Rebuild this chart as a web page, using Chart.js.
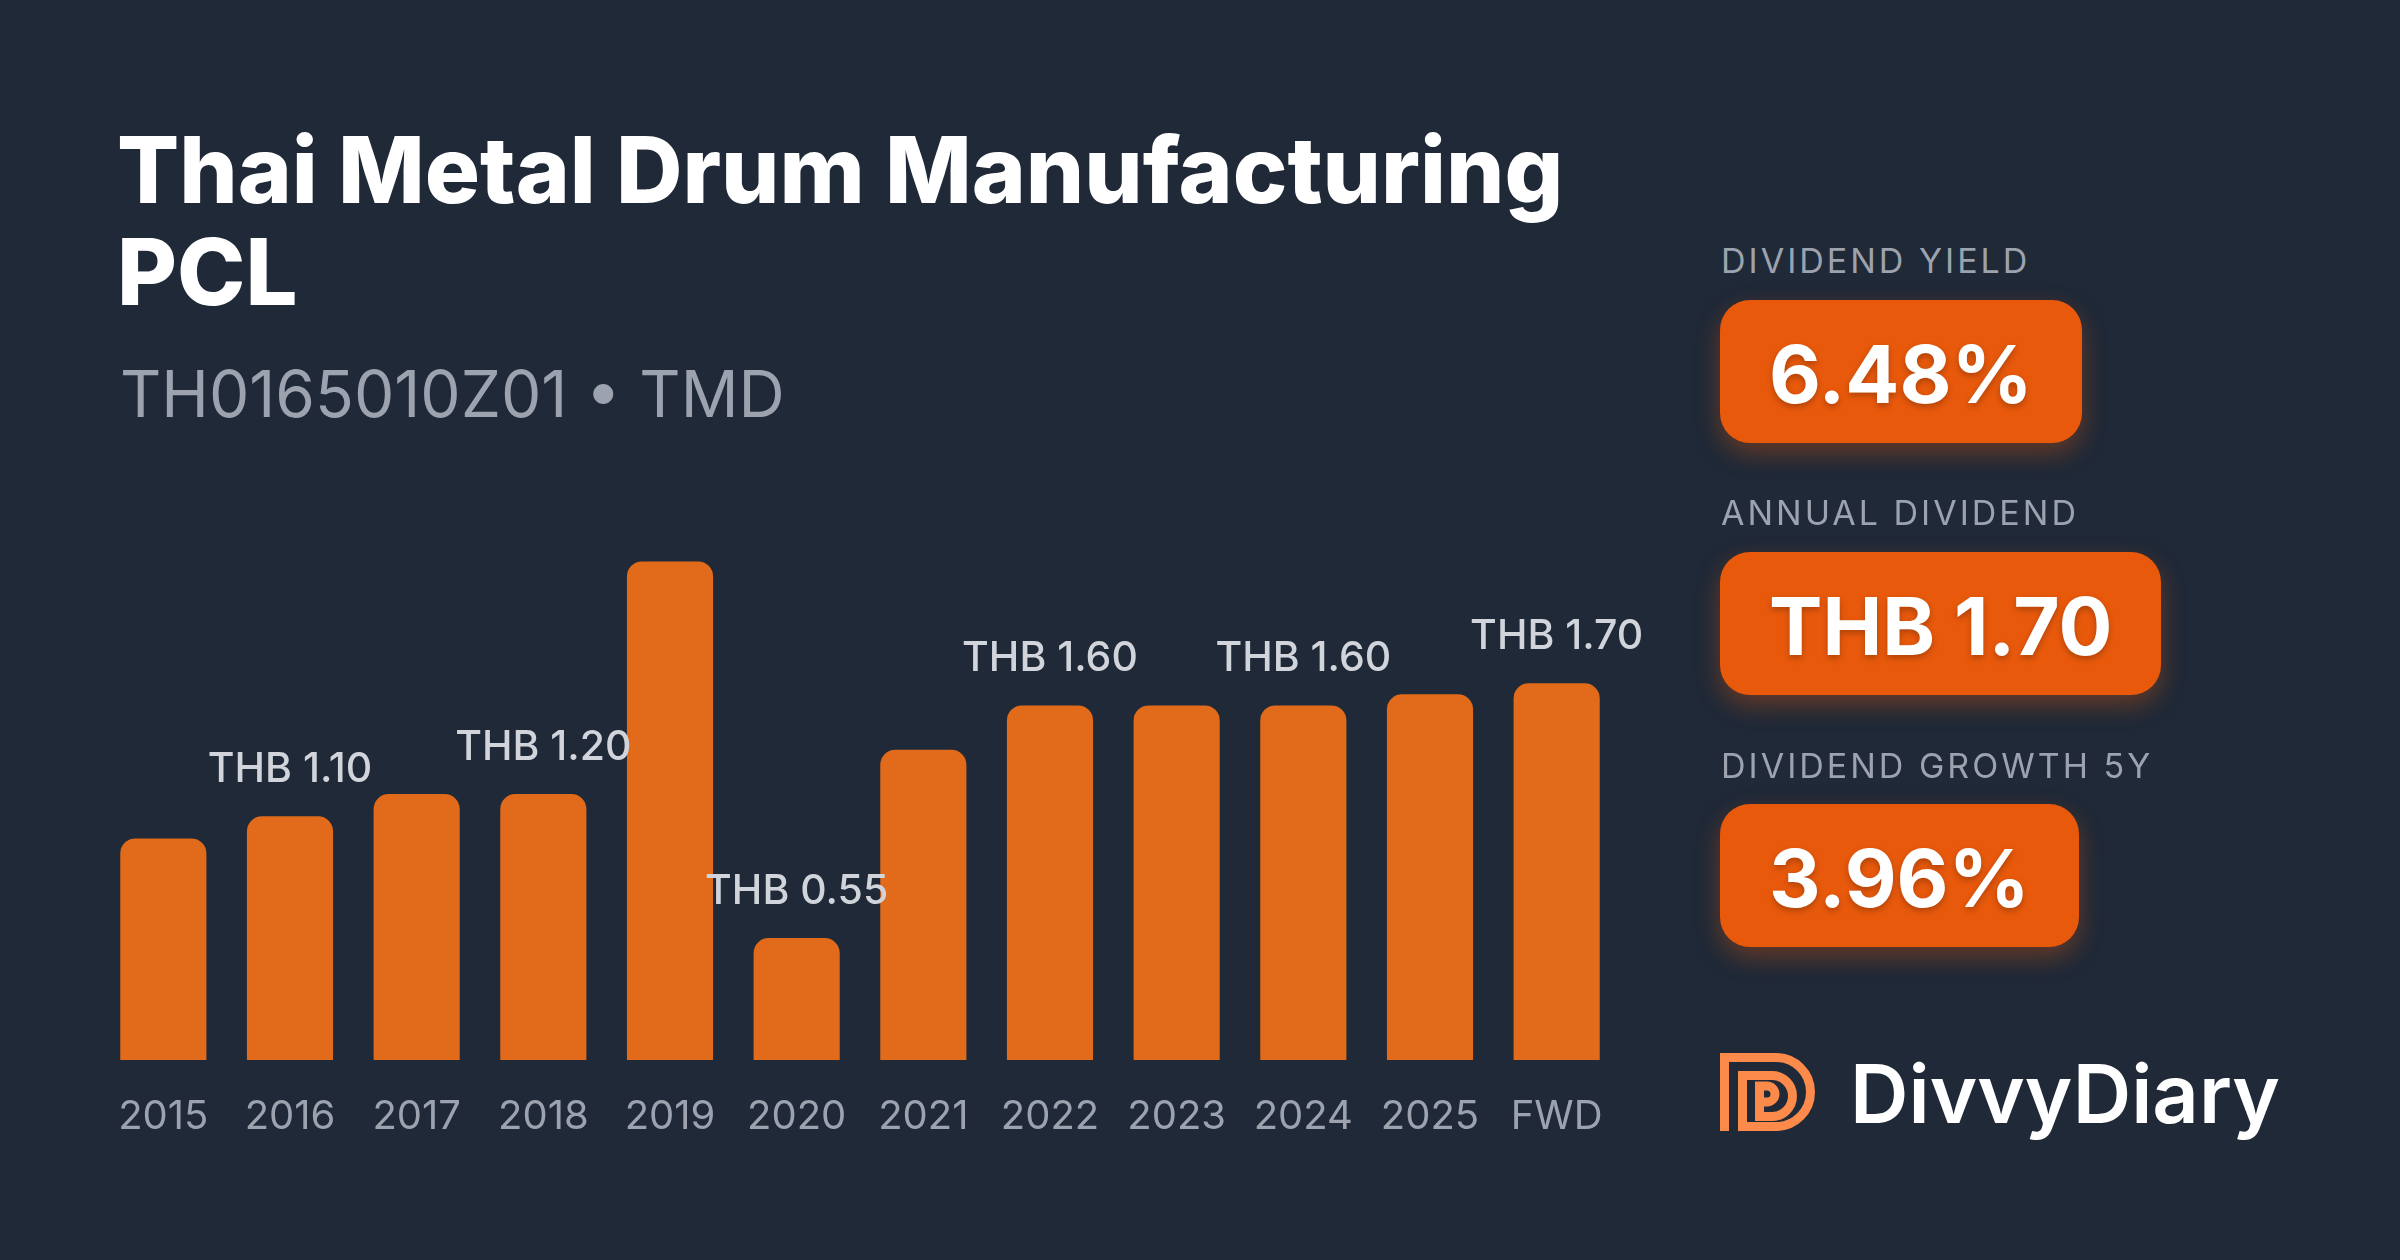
<!DOCTYPE html>
<html><head><meta charset="utf-8">
<script src="https://cdn.jsdelivr.net/npm/chart.js@4.4.1/dist/chart.umd.min.js"></script>
<style>
html,body{margin:0;padding:0;background:#1f2937;}
body{width:2400px;height:1260px;position:relative;overflow:hidden;font-family:Inter,'Noto Sans',sans-serif;}
#title{position:absolute;left:117px;top:119px;width:1600px;color:#fff;font-weight:800;font-size:92px;line-height:102px;}
#sub{position:absolute;left:120px;top:362px;color:#9ca3af;font-size:64px;line-height:64px;white-space:nowrap;}
.lbl{position:absolute;left:1721px;color:#9ca3af;font-size:34px;line-height:34px;letter-spacing:3px;white-space:nowrap;}
.box{position:absolute;left:1720px;height:143px;overflow:hidden;border-radius:30px;background:#e8590c;color:#fff;font-weight:700;font-size:80px;padding:0 49px;line-height:148px;white-space:nowrap;box-shadow:0 10px 24px rgba(232,89,12,0.35);text-shadow:0 3px 6px rgba(0,0,0,0.25);}
#chartWrap{position:absolute;left:0;top:0;width:1700px;height:1260px;}
#logo{position:absolute;left:1720px;top:1053px;}
#brand{position:absolute;left:1850px;top:1054px;color:#fff;font-weight:600;font-size:81px;line-height:80px;white-space:nowrap;}
</style></head>
<body>
<div id="chartWrap"><canvas id="c"></canvas></div>
<div id="title">Thai Metal Drum Manufacturing<br>PCL</div>
<div id="sub">TH0165010Z01 • TMD</div>
<div class="lbl" style="top:244px">DIVIDEND YIELD</div>
<div class="box" style="top:300px">6.48%</div>
<div class="lbl" style="top:496px">ANNUAL DIVIDEND</div>
<div class="box" style="top:552px">THB 1.70</div>
<div class="lbl" style="top:749px">DIVIDEND GROWTH 5Y</div>
<div class="box" style="top:804px">3.96%</div>
<svg id="logo" width="100" height="80" viewBox="0 0 100 80" fill="none" stroke="#fb8a4b" stroke-width="9">
<path d="M4.5 78 V4.5 H56 A34.5 34.5 0 0 1 56 73.5 H18"/>
<path d="M22.5 78 V22.5 H52 A20.5 20.5 0 0 1 52 63.5 H35"/>
<path d="M39.5 66 V33 H47 A8 8 0 0 1 47 49 H44"/>
</svg>
<div id="brand">DivvyDiary</div>
<script>
const years = ['2015','2016','2017','2018','2019','2020','2021','2022','2023','2024','2025','FWD'];
const dividends = [1.00, 1.10, 1.20, 1.20, 2.25, 0.55, 1.40, 1.60, 1.60, 1.60, 1.65, 1.70];
const showLabel = [false, true, false, true, false, true, false, true, false, true, false, true];
const currency = 'THB';

const valueLabels = {
  id: 'valueLabels',
  afterDatasetsDraw(chart) {
    const ctx = chart.ctx;
    const meta = chart.getDatasetMeta(0);
    ctx.save();
    ctx.font = '500 41px Inter';
    ctx.fillStyle = '#d1d5db';
    ctx.textAlign = 'center';
    ctx.textBaseline = 'alphabetic';
    meta.data.forEach((bar, i) => {
      if (!showLabel[i]) return;
      ctx.fillText(currency + ' ' + dividends[i].toFixed(2), bar.x, bar.y - 34);
    });
    ctx.restore();
  }
};

new Chart(document.getElementById('c'), {
  type: 'bar',
  data: {
    labels: years,
    datasets: [{
      data: dividends,
      backgroundColor: '#e16b1a',
      borderRadius: 15,
      borderSkipped: 'start',
      barPercentage: 0.68,
      categoryPercentage: 1
    }]
  },
  options: {
    responsive: true,
    maintainAspectRatio: false,
    devicePixelRatio: 1,
    animation: false,
    layout: { padding: { left: 100, right: 80, top: 506, bottom: 100 } },
    plugins: { legend: { display: false }, tooltip: { enabled: false } },
    scales: {
      x: {
        grid: { display: false, drawTicks: false },
        border: { display: false },
        ticks: { color: '#9ca3af', font: { family: 'Inter', size: 40 }, padding: 33, maxRotation: 0, autoSkip: false },
        afterFit(s) { s.height = 100; }
      },
      y: { display: false, min: 0, max: 2.5 }
    }
  },
  plugins: [valueLabels]
});
</script>
</body></html>
